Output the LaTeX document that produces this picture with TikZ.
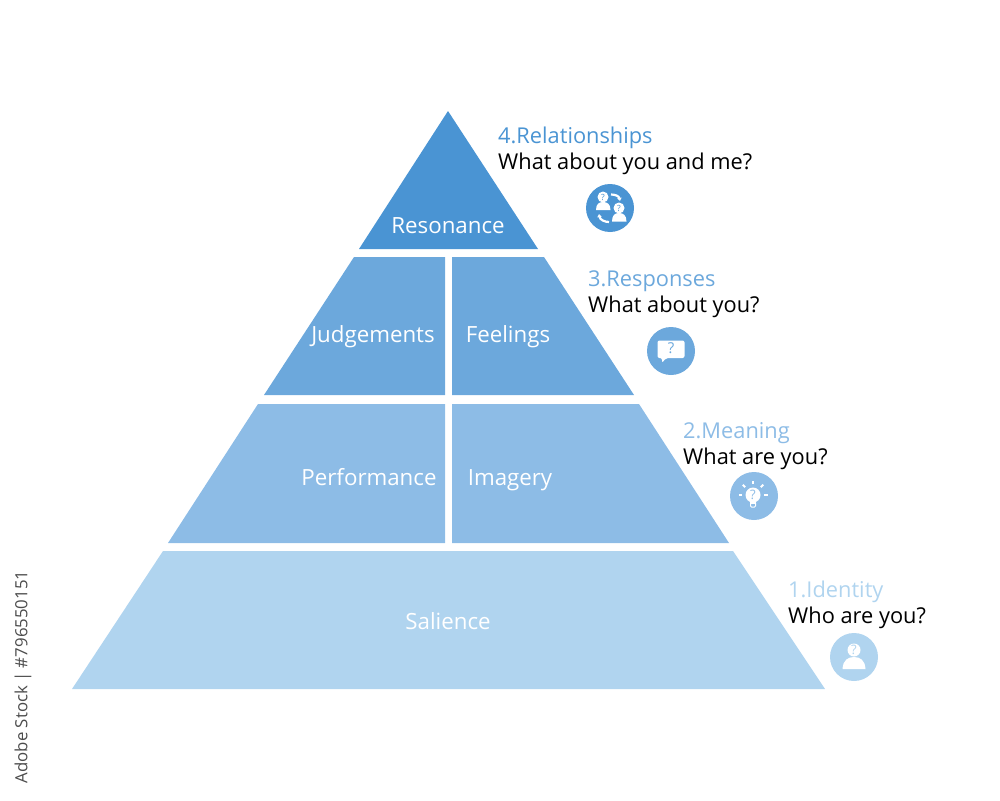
\documentclass[tikz,border=0pt]{standalone}
\usepackage{fontspec}
\setmainfont{Open Sans}
\usetikzlibrary{arrows.meta, positioning, calc}
\definecolor{tierA}{HTML}{B0D4EF}
\definecolor{tierB}{HTML}{8DBCE6}
\definecolor{tierC}{HTML}{6CA8DC}
\definecolor{tierD}{HTML}{4A94D3}
\newcommand{\Ask}{?}
\tikzset{
    tier/.style={fill=#1, draw=none},
    tierlabel/.style={text=white, font=\fontsize{22.3}{22.3}\selectfont, anchor=base, inner sep=0pt},
    head/.style={text=#1, font=\fontsize{21.8}{21.8}\selectfont, anchor=base west, inner sep=0pt},
    ask/.style={text=black, font=\fontsize{21.8}{21.8}\selectfont, anchor=base west, inner sep=0pt},
    badge/.style={circle, fill=#1, minimum size=48pt, inner sep=0pt},
    mark/.style={text=#1, font=\fontsize{13}{13}\selectfont, inner sep=0pt},
    person/.pic = {
    \fill[white] (0,-7) circle (6.5);
    \fill[white] (-11.5,12) .. controls (-11,3) and (-6,0) .. (0,0) .. controls (6,0) and (11,3) .. (11.5,12) -- cycle;
    \node[mark=tierA] (q) at (0,-7) {\Ask};
    },
    bulb/.pic = {
    \fill[white] (-1,-1) circle (7.5);
    \fill[white] (-4,3) rectangle (2,8);
    \draw[white, line width=1pt, rounded corners=1pt] (-3.5,7) -- (-3.5,11) -- (1.5,11) -- (1.5,7);
    \foreach \a in {180,225,270,315,360} {
      \draw[white, line width=2pt] ($(-1,-1)+(\a:11)$) -- ($(-1,-1)+(\a:14.5)$);
    }
    \node[mark=tierB] (q) at (-1,-1) {\Ask};
    },
    chat/.pic = {
    \fill[white, rounded corners=2pt] (-13.5,-10.5) -- (13.5,-10.5) -- (13.5,7) -- (-5,7) -- (-9,12) -- (-9,7) -- (-13.5,7) -- cycle;
    \node[mark=tierC, font=\fontsize{15}{15}\selectfont] (q) at (0,-2.5) {\Ask};
    },
    swap/.pic = {
    \fill[white] (-7,-11) circle (5.5);
    \fill[white] (-14,2) .. controls (-14,-4) and (-11,-6) .. (-7,-6) .. controls (-3,-6) and (0.5,-4) .. (0.5,2) -- cycle;
    \fill[white] (9,0) circle (5.5);
    \fill[white] (2,13.5) .. controls (2,7) and (5,5) .. (9,5) .. controls (13,5) and (16.5,7) .. (16.5,13.5) -- cycle;
    \node[mark=tierD, font=\fontsize{8.5}{8.5}\selectfont] (q1) at (-7,-11) {\Ask};
    \node[mark=tierD, font=\fontsize{8.5}{8.5}\selectfont] (q2) at (9,0) {\Ask};
    \draw[white, line width=2.2pt, -{Latex[length=3pt,width=5pt]}] (1,-13.5) .. controls (5,-13.5) and (9,-12) .. (10,-7);
    \draw[white, line width=2.2pt, -{Latex[length=3pt,width=5pt]}] (-1,14) .. controls (-5,14) and (-10,12) .. (-11,6);
    },
}
\begin{document}
\begin{tikzpicture}[x=1pt, y=-1pt]
    \useasboundingbox (0,0) rectangle (1000,800);

    % pyramid
    \fill[tier=tierD] (448,111) -- (538,249) -- (359,249) -- cycle;
    \fill[tier=tierC] (354,257) -- (445,257) -- (445,395) -- (264,395) -- cycle;
    \fill[tier=tierC] (452,257) -- (544,257) -- (634,395) -- (452,395) -- cycle;
    \fill[tier=tierB] (258,404) -- (445,404) -- (445,543) -- (168,543) -- cycle;
    \fill[tier=tierB] (452,404) -- (639,404) -- (729,543) -- (452,543) -- cycle;
    \fill[tier=tierA] (163,551) -- (733,551) -- (825,689) -- (72,689) -- cycle;

    \node[tierlabel] (resonance) at (448,233) {Resonance};
    \node[tierlabel] (judgements) at (373,342) {Judgements};
    \node[tierlabel] (feelings) at (508,342) {Feelings};
    \node[tierlabel] (performance) at (369,485) {Performance};
    \node[tierlabel] (imagery) at (510,485) {Imagery};
    \node[tierlabel] (salience) at (448,629) {Salience};

    % captions
    \node[head=tierD] (h4) at (498,143) {4.Relationships};
    \node[ask] (a4) at ($(h4.base west)+(0,26)$) {What about you and me?};
    \node[head=tierC] (h3) at (588,286) {3.Responses};
    \node[ask] (a3) at ($(h3.base west)+(0,26)$) {What about you?};
    \node[head=tierB] (h2) at (683,438) {2.Meaning};
    \node[ask] (a2) at ($(h2.base west)+(0,26)$) {What are you?};
    \node[head=tierA] (h1) at (788,597) {1.Identity};
    \node[ask] (a1) at ($(h1.base west)+(0,26)$) {Who are you?};

    % icons
    \node[badge=tierD] (b4) at (610,208) {};
    \path (b4) pic (i4) {swap};
    \node[badge=tierC] (b3) at (671,351) {};
    \path (b3) pic (i3) {chat};
    \node[badge=tierB] (b2) at (754,496) {};
    \path (b2) pic (i2) {bulb};
    \node[badge=tierA] (b1) at (854,657) {};
    \path (b1) pic (i1) {person};

    \node[rotate=90, text=black!70, font=\fontsize{16.8}{16.8}\selectfont, inner sep=0pt] (stock) at (23,677) {Adobe Stock | \#796550151};
\end{tikzpicture}
\end{document}
